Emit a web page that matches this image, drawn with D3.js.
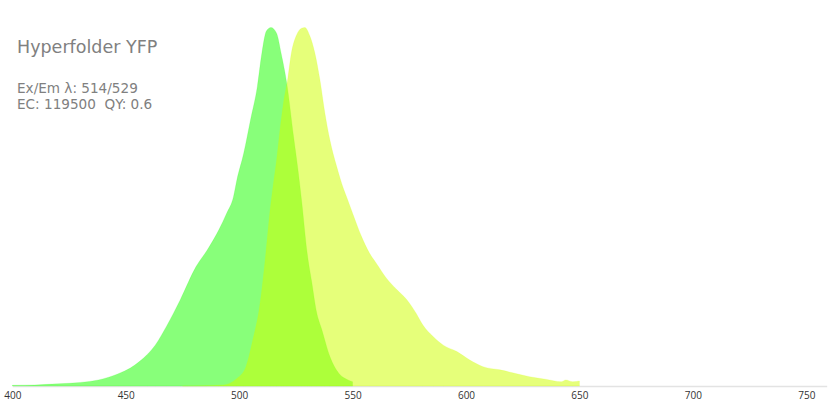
<!DOCTYPE html>
<html lang="en">
<head>
    <meta charset="UTF-8">
    <title>Hyperfolder YFP</title>
    <script src="https://cdn.jsdelivr.net/npm/d3@7"></script>
    <style>
        body {
            margin: 0;
            background-color: #fff;
        }
        svg {
            display: block;
        }
        .title {
            font-family: 'DejaVu Sans', sans-serif;
            fill: #808080;
        }
        .tick text {
            font-family: 'Open Sans', sans-serif;
            font-size: 10px;
            fill: #333;
        }
    </style>
</head>
<body>
    <svg width="840" height="420"></svg>
    <script>
        // spectra (wavelength in nm, normalised intensity)
        const exWavelengths = [400, 410, 420, 430, 438, 447, 452, 456, 459.5, 463, 468, 474, 481, 486, 491, 494.5, 497.5, 499,
            502, 505, 508, 510, 512, 514, 516.5, 518.5, 521, 524, 526, 527.5, 530, 532, 534, 536.5, 540, 544, 548, 550];
        const exValues = [0.002, 0.003, 0.006, 0.01, 0.017, 0.035, 0.05, 0.068, 0.088, 0.114, 0.167, 0.24, 0.333, 0.38, 0.435, 0.482, 0.528, 0.575,
            0.649, 0.742, 0.835, 0.928, 0.99, 1.0, 0.984, 0.928, 0.844, 0.695, 0.60, 0.519, 0.37, 0.29, 0.21, 0.156, 0.082, 0.035, 0.017, 0.012];

        const emWavelengths = [475, 485, 493, 499, 503, 506, 509, 511.3, 513.5, 515, 516.5, 518, 519.5, 521.5, 523, 525.3, 527.5, 529,
            531, 533.4, 535.6, 537.8, 540, 543, 546, 547.5, 550, 554, 557.5, 560.5, 565, 569, 574, 578, 581, 585.5, 590, 596,
            601.5, 607.5, 615, 620.5, 628, 635, 642, 644, 647, 650];
        const emValues = [0, 0.001, 0.003, 0.021, 0.054, 0.128, 0.221, 0.342, 0.482, 0.56, 0.63, 0.714, 0.788, 0.86, 0.928, 0.979, 0.998, 1.0,
            0.979, 0.928, 0.854, 0.761, 0.686, 0.612, 0.55, 0.525, 0.482, 0.416, 0.37, 0.342, 0.30, 0.272, 0.24, 0.203, 0.17, 0.138, 0.114, 0.096,
            0.073, 0.054, 0.045, 0.037, 0.026, 0.019, 0.012, 0.017, 0.012, 0.014];

        const xTicks = [400, 450, 500, 550, 600, 650, 700, 750];
        const titleText = "Hyperfolder YFP";
        const infoLines = ["Ex/Em λ: 514/529", "EC: 119500  QY: 0.6"];

        const svg = d3.select("svg");

        const x = d3.scaleLinear().domain([400, 759]).range([12.3, 826.7]);
        const y = d3.scaleLinear().domain([0, 1]).range([386, 27.5]);

        // axis line sits underneath the translucent spectra
        const axis = svg.append("g")
            .attr("transform", "translate(0,386)")
            .call(d3.axisBottom(x).tickValues(xTicks).tickSize(0).tickPadding(6).tickFormat(d3.format("d")));
        axis.select(".domain").attr("stroke", "#e3e3e3").attr("stroke-width", 1.5);

        const area = d3.area()
            .x(d => x(d[0]))
            .y0(y(0))
            .y1(d => y(d[1]))
            .curve(d3.curveMonotoneX);

        const spectra = [
            { name: "ex", pts: d3.zip(exWavelengths, exValues), color: "rgb(27,255,0)" },
            { name: "em", pts: d3.zip(emWavelengths, emValues), color: "rgb(208,255,0)" }
        ];

        svg.append("g")
            .selectAll("path")
            .data(spectra)
            .join("path")
            .attr("d", d => area(d.pts))
            .attr("fill", d => d.color)
            .attr("fill-opacity", 0.52)
            .attr("stroke", d => d.color)
            .attr("stroke-opacity", 0.15)
            .attr("stroke-width", 1);

        svg.append("text")
            .attr("class", "title")
            .attr("x", 17)
            .attr("y", 52.5)
            .style("font-size", "17.5px")
            .text(titleText);

        svg.append("g")
            .selectAll("text")
            .data(infoLines)
            .join("text")
            .attr("class", "title")
            .attr("x", 17)
            .attr("y", (d, i) => 93 + i * 15.5)
            .style("font-size", "13.6px")
            .style("white-space", "pre")
            .text(d => d);
    </script>
</body>
</html>
